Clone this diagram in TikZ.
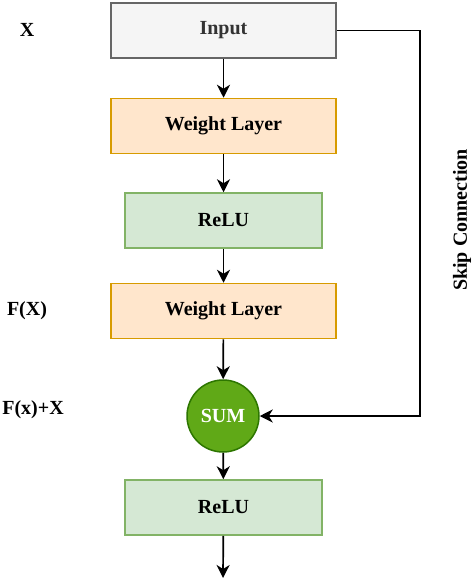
\documentclass[tikz,border=0pt]{standalone}
\usepackage{fontspec}
\setmainfont{Liberation Serif}
\usetikzlibrary{arrows.meta}
\definecolor{inFill}{HTML}{F5F5F5}
\definecolor{inLine}{HTML}{666666}
\definecolor{wlFill}{HTML}{FFE6CC}
\definecolor{wlLine}{HTML}{D79B00}
\definecolor{reFill}{HTML}{D5E8D4}
\definecolor{reLine}{HTML}{82B366}
\definecolor{smFill}{HTML}{60A917}
\definecolor{smLine}{HTML}{2D7600}
\begin{document}
\begin{tikzpicture}[x=1pt,y=-1pt,
  every node/.style={font=\fontsize{20}{24}\selectfont\bfseries},
  box/.style={draw, line width=1.5pt, minimum height=55pt, inner sep=0pt},
  wide/.style={box, minimum width=225pt},
  narrow/.style={box, minimum width=197pt},
  conn/.style={line width=1.7pt, -{Stealth[length=13pt,width=13pt,inset=4pt]}},
  lbl/.style={text=black}]
\useasboundingbox (0,0) rectangle (474,580);
\fill[white] (0,0) rectangle (474,580);
\node[wide, fill=inFill, draw=inLine, text=black!80] (inp) at (223.5,30.5) {Input};
\node[wide, fill=wlFill, draw=wlLine] (wl1) at (223.5,126) {Weight Layer};
\node[narrow, fill=reFill, draw=reLine] (re1) at (223.5,220.5) {ReLU};
\node[wide, fill=wlFill, draw=wlLine] (wl2) at (223.5,311) {Weight Layer};
\node[circle, draw=smLine, fill=smFill, line width=1.5pt, minimum size=72pt, inner sep=0pt, text=white] (sum) at (223,416) {SUM};
\node[narrow, fill=reFill, draw=reLine] (re2) at (223.5,507.5) {ReLU};
\coordinate (out) at (223,578);
\coordinate (sk1) at (420,30.5);
\coordinate (sk2) at (420,416);
\draw[conn] (inp) -- (wl1);
\draw[conn] (wl1) -- (re1);
\draw[conn] (re1) -- (wl2);
\draw[conn] (wl2) -- (sum);
\draw[conn] (sum) -- (re2);
\draw[conn] (re2) -- (out);
\draw[conn] (inp.east) -- (sk1) -- (sk2) -- (sum.east);
\node[lbl] (lx) at (27,30) {X};
\node[lbl] (lf) at (27,311) {F(X)};
\node[lbl] (lfx) at (33,410) {F(x)+X};
\node[lbl, rotate=90] (lsk) at (462,220) {Skip Connection};
\end{tikzpicture}
\end{document}
